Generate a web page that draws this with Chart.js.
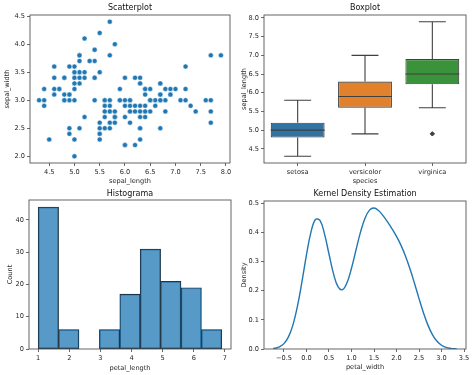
<!DOCTYPE html>
<html>
<head>
<meta charset="utf-8">
<script src="https://cdn.jsdelivr.net/npm/chart.js@4.4.0/dist/chart.umd.min.js"></script>
<style>
  body { margin: 0; background: #fff; }
  #wrap { position: relative; width: 474px; height: 375px; }
  canvas { position: absolute; }
</style>
</head>
<body>
<div id="wrap">
  <canvas id="scatter" width="237" height="188" style="left:0;top:0"></canvas>
  <canvas id="box" width="237" height="188" style="left:237px;top:0"></canvas>
  <canvas id="hist" width="237" height="188" style="left:0;top:187px"></canvas>
  <canvas id="kde" width="237" height="188" style="left:237px;top:187px"></canvas>
</div>
<script>
// iris: sepal_length / sepal_width (setosa, versicolor, virginica)
const sepalLength = [
  5.1,4.9,4.7,4.6,5.0,5.4,4.6,5.0,4.4,4.9,5.4,4.8,4.8,4.3,5.8,5.7,5.4,5.1,5.7,5.1,5.4,5.1,4.6,5.1,4.8,
  5.0,5.0,5.2,5.2,4.7,4.8,5.4,5.2,5.5,4.9,5.0,5.5,4.9,4.4,5.1,5.0,4.5,4.4,5.0,5.1,4.8,5.1,4.6,5.3,5.0,
  7.0,6.4,6.9,5.5,6.5,5.7,6.3,4.9,6.6,5.2,5.0,5.9,6.0,6.1,5.6,6.7,5.6,5.8,6.2,5.6,5.9,6.1,6.3,6.1,6.4,
  6.6,6.8,6.7,6.0,5.7,5.5,5.5,5.8,6.0,5.4,6.0,6.7,6.3,5.6,5.5,5.5,6.1,5.8,5.0,5.6,5.7,5.7,6.2,5.1,5.7,
  6.3,5.8,7.1,6.3,6.5,7.6,4.9,7.3,6.7,7.2,6.5,6.4,6.8,5.7,5.8,6.4,6.5,7.7,7.7,6.0,6.9,5.6,7.7,6.3,6.7,
  7.2,6.2,6.1,6.4,7.2,7.4,7.9,6.4,6.3,6.1,7.7,6.3,6.4,6.0,6.9,6.7,6.9,5.8,6.8,6.7,6.7,6.3,6.5,6.2,5.9
];
const sepalWidth = [
  3.5,3.0,3.2,3.1,3.6,3.9,3.4,3.4,2.9,3.1,3.7,3.4,3.0,3.0,4.0,4.4,3.9,3.5,3.8,3.8,3.4,3.7,3.6,3.3,3.4,
  3.0,3.4,3.5,3.4,3.2,3.1,3.4,4.1,4.2,3.1,3.2,3.5,3.6,3.0,3.4,3.5,2.3,3.2,3.5,3.8,3.0,3.8,3.2,3.7,3.3,
  3.2,3.2,3.1,2.3,2.8,2.8,3.3,2.4,2.9,2.7,2.0,3.0,2.2,2.9,2.9,3.1,3.0,2.7,2.2,2.5,3.2,2.8,2.5,2.8,2.9,
  3.0,2.8,3.0,2.9,2.6,2.4,2.4,2.7,2.7,3.0,3.4,3.1,2.3,3.0,2.5,2.6,3.0,2.6,2.3,2.7,3.0,2.9,2.9,2.5,2.8,
  3.3,2.7,3.0,2.9,3.0,3.0,2.5,2.9,2.5,3.6,3.2,2.7,3.0,2.5,2.8,3.2,3.0,3.8,2.6,2.2,3.2,2.8,2.8,2.7,3.3,
  3.2,2.8,3.0,2.8,3.0,2.8,3.8,2.8,2.8,2.6,3.0,3.4,3.1,3.0,3.1,3.1,3.1,2.7,3.2,3.3,3.0,2.5,3.0,3.4,3.0
];

// boxplot of sepal_length by species
const species = ['setosa', 'versicolor', 'virginica'];
const whiskerLow = [4.3, 4.9, 5.6];
const q1 = [4.8, 5.6, 6.225];
const median = [5.0, 5.9, 6.5];
const q3 = [5.2, 6.3, 6.9];
const whiskerHigh = [5.8, 7.0, 7.9];
const outlierSpecies = [2];
const outlierValues = [4.9];

// histogram of petal_length
const binEdges = [1.0, 1.6556, 2.3111, 2.9667, 3.6222, 4.2778, 4.9333, 5.5889, 6.2444, 6.9];
const binCounts = [44, 6, 0, 6, 17, 31, 21, 19, 6];

// KDE of petal_width
const kdeX = [-0.74,-0.7,-0.6,-0.5,-0.4,-0.3,-0.2,-0.1,0.0,0.1,0.2,0.3,0.4,0.5,0.6,0.7,0.8,0.9,1.0,1.1,1.2,
  1.3,1.4,1.5,1.6,1.7,1.8,1.9,2.0,2.1,2.2,2.3,2.4,2.5,2.6,2.7,2.8,2.9,3.0,3.1,3.2,3.3,3.34];
const kdeY = [0.0015,0.0025,0.0072,0.0184,0.0415,0.0829,0.1468,0.2309,0.3224,0.4007,0.4441,0.4408,0.3950,
  0.3258,0.2583,0.2138,0.2034,0.2272,0.2770,0.3395,0.4006,0.4483,0.4761,0.4833,0.4748,0.4573,0.4357,0.4122,
  0.3860,0.3552,0.3181,0.2742,0.2247,0.1728,0.1234,0.0810,0.0486,0.0264,0.0129,0.0057,0.0022,0.0008,0.0005];

// tick labels
const scatterXTicks = [4.5, 5.0, 5.5, 6.0, 6.5, 7.0, 7.5, 8.0];
const scatterYTicks = [2.0, 2.5, 3.0, 3.5, 4.0, 4.5];
const boxXTicks = [0, 1, 2];
const boxYTicks = [4.5, 5.0, 5.5, 6.0, 6.5, 7.0, 7.5, 8.0];
const histXTicks = [1, 2, 3, 4, 5, 6, 7];
const histYTicks = [0, 10, 20, 30, 40];
const kdeXTicks = [-0.5, 0.0, 0.5, 1.0, 1.5, 2.0, 2.5, 3.0, 3.5];
const kdeYTicks = [0.0, 0.1, 0.2, 0.3, 0.4, 0.5];

Chart.defaults.font.family = "'DejaVu Sans', sans-serif";
Chart.defaults.font.size = 6.6;
Chart.defaults.color = '#262626';
Chart.defaults.animation = false;

const one = v => (v < 0 ? '\u2212' : '') + Math.abs(v).toFixed(1);
const int = v => String(v);

// matplotlib-like spines on all 4 sides
const frame = {
  id: 'frame',
  afterDraw(chart) {
    const { ctx, chartArea: a } = chart;
    ctx.save();
    ctx.strokeStyle = '#555';
    ctx.lineWidth = 0.9;
    ctx.strokeRect(a.left, a.top, a.right - a.left, a.bottom - a.top);
    ctx.restore();
  }
};

function axis(min, max, ticks, fmt, title, size, horizontal, titlePad) {
  return {
    type: 'linear', min, max, offset: false,
    grid: { display: true, drawOnChartArea: false, drawTicks: true, tickLength: 3,
            tickColor: '#444', lineWidth: 0.8, offset: false },
    border: { display: false },
    afterBuildTicks: s => { s.ticks = ticks.map(v => ({ value: v })); },
    afterFit: s => { if (horizontal) s.height = size; else s.width = size; },
    ticks: { padding: 2, autoSkip: false, maxRotation: 0, callback: fmt },
    title: { display: true, text: title, padding: horizontal ? { top: 0, bottom: titlePad } : { top: titlePad, bottom: 0 } }
  };
}

function base(titleText, titlePad, right, x, y) {
  return {
    responsive: false,
    layout: { padding: { left: 0, top: 0, right, bottom: 0 } },
    plugins: {
      legend: { display: false },
      tooltip: { enabled: false },
      title: { display: true, text: titleText, fullSize: false, color: '#111',
               font: { size: 8, weight: 'normal' }, padding: titlePad }
    },
    scales: { x, y }
  };
}

// Scatterplot
new Chart(document.getElementById('scatter'), {
  type: 'scatter',
  data: {
    datasets: [{
      data: sepalLength.map((v, i) => ({ x: v, y: sepalWidth[i] })),
      backgroundColor: '#1f77b4', borderColor: '#fff', borderWidth: 0.5, pointRadius: 2.5
    }]
  },
  options: base('Scatterplot', { top: 3, bottom: 2.4 }, 7,
    axis(4.12, 8.08, scatterXTicks, one, 'sepal_length', 25, true, 2.5),
    axis(1.88, 4.52, scatterYTicks, one, 'sepal_width', 30, false, 3.5)),
  plugins: [frame]
});

// Boxplot
const boxLines = [];
species.forEach((s, i) => {
  boxLines.push({ x: i, y: whiskerLow[i] }, { x: i, y: q1[i] }, { x: i, y: null });
  boxLines.push({ x: i, y: q3[i] }, { x: i, y: whiskerHigh[i] }, { x: i, y: null });
  boxLines.push({ x: i - 0.2, y: whiskerLow[i] }, { x: i + 0.2, y: whiskerLow[i] }, { x: i, y: null });
  boxLines.push({ x: i - 0.2, y: whiskerHigh[i] }, { x: i + 0.2, y: whiskerHigh[i] }, { x: i, y: null });
  boxLines.push({ x: i - 0.4, y: median[i] }, { x: i + 0.4, y: median[i] }, { x: i, y: null });
});

new Chart(document.getElementById('box'), {
  type: 'bar',
  data: {
    datasets: [
      { type: 'line', data: boxLines, borderColor: '#3f3f3f', borderWidth: 1.1, pointRadius: 0,
        spanGaps: false, tension: 0, order: 0 },
      { type: 'line', showLine: false, order: 0,
        data: outlierSpecies.map((s, i) => ({ x: s, y: outlierValues[i] })),
        pointStyle: 'rectRot', pointRadius: 2.2, backgroundColor: '#3f3f3f', borderColor: '#3f3f3f' },
      { type: 'bar', order: 1,
        data: species.map((s, i) => ({ x: i, y: [q1[i], q3[i]] })),
        backgroundColor: ['#3274a1', '#e1812c', '#3a923a'], borderColor: '#3f3f3f', borderWidth: 1.1,
        borderSkipped: false, barPercentage: 0.8, categoryPercentage: 1 }
    ]
  },
  options: base('Boxplot', { top: 3, bottom: 2.4 }, 8,
    axis(-0.5, 2.5, boxXTicks, v => species[v], 'species', 25, true, 2.5),
    axis(4.12, 8.08, boxYTicks, one, 'sepal_length', 27, false, 3)),
  plugins: [frame]
});

// Histogram
new Chart(document.getElementById('hist'), {
  type: 'bar',
  data: {
    datasets: [{
      data: binCounts.map((c, i) => ({ x: (binEdges[i] + binEdges[i + 1]) / 2, y: c })),
      backgroundColor: 'rgba(31,119,180,0.75)', borderColor: '#1b2a36', borderWidth: 0.8,
      borderSkipped: false, barPercentage: 1, categoryPercentage: 1
    }]
  },
  options: base('Histograma', { top: 2.2, bottom: 1.2 }, 6,
    axis(0.705, 7.195, histXTicks, int, 'petal_length', 26, true, 3),
    axis(0, 46.2, histYTicks, int, 'Count', 29, false, 6)),
  plugins: [frame]
});

// KDE
new Chart(document.getElementById('kde'), {
  type: 'line',
  data: {
    datasets: [{
      data: kdeX.map((x, i) => ({ x, y: kdeY[i] })),
      borderColor: '#1f77b4', borderWidth: 1.4, pointRadius: 0, tension: 0.4, fill: false
    }]
  },
  options: base('Kernel Density Estimation', { top: 2.2, bottom: 2.2 }, 8,
    axis(-0.943, 3.543, kdeXTicks, one, 'petal_width', 26, true, 3.3),
    axis(0, 0.5075, kdeYTicks, one, 'Density', 27, false, 3)),
  plugins: [frame]
});
</script>
</body>
</html>
